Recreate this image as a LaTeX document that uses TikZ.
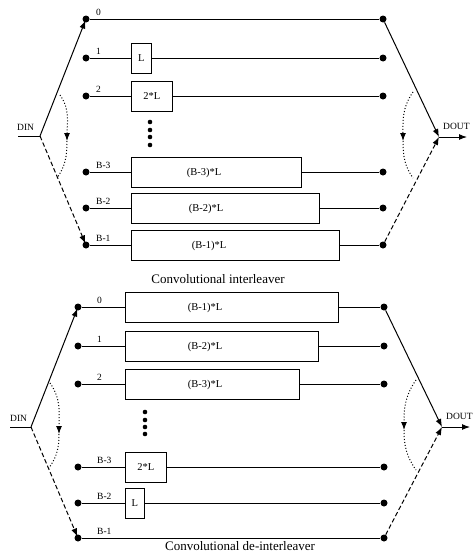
\documentclass[tikz,border=0pt]{standalone}
\usepackage{fontspec}
\setmainfont{Liberation Serif}
\usetikzlibrary{arrows.meta}

\tikzset{
    dot/.style={circle,fill,inner sep=0pt,minimum size=7pt},
    box/.style={draw,line width=0.8pt,anchor=west,minimum height=30pt,inner sep=0pt,font=\fontsize{10.5}{11}\selectfont},
    tag/.style={inner sep=0pt,font=\fontsize{10.5}{11}\selectfont},
    lbl/.style={anchor=south west,inner sep=0pt,font=\fontsize{9.5}{10}\selectfont},
    wire/.style={line width=1pt},
    tip/.style={-{Latex[length=8pt,width=6pt]}},
    turn/.style={line width=1pt,dash pattern=on 1pt off 2pt},
    gap/.style={dash pattern=on 4.5pt off 2.5pt},
}

\begin{document}
\begin{tikzpicture}[x=1pt,y=-1pt]
    \useasboundingbox (0,0) rectangle (474,557);

    % interleaver
    \foreach \n/\y in {0/19,1/58,2/96,3/172,4/208,5/245}
    {
        \node[dot] (a\n) at (86,\y) {};
        \node[dot] (p\n) at (383,\y) {};
    }
    \foreach \n/\t in {0/0,1/1,2/2,3/B-3,4/B-2,5/B-1}
        \node[lbl] at ([xshift=10pt,yshift=3pt]a\n) {\t};

    \node[box,minimum width=20pt] (k1) at (131,58) {L};
    \node[box,minimum width=41pt] (k2) at (131,96) {2*L};
    \node[box,minimum width=170pt] (k3) at (131,172) {};
    \node[box,minimum width=188pt] (k4) at (131,208) {};
    \node[box,minimum width=208pt] (k5) at (131,245) {};
    \node[tag] (n3) at (204,173) {(B-3)*L};
    \node[tag] (n4) at (206,209) {(B-2)*L};
    \node[tag] (n5) at (209,246) {(B-1)*L};

    \draw[wire] (a0) -- (p0);
    \foreach \n in {1,...,5}
        \draw[wire] (a\n) -- (k\n) (k\n) -- (p\n);
    \foreach \y in {122,130,137,145}
        \fill (150,\y) circle (2.3pt);

    \coordinate (in1) at (18,136);
    \coordinate (din1) at (40,136);
    \node[lbl] (dinl1) at (17,131) {DIN};
    \draw[wire] (in1) -- (din1);
    \draw[wire,tip,shorten >=-2pt] (din1) -- (a0);
    \draw[wire,gap,tip,shorten >=-2pt] (din1) -- (a5);
    \coordinate (s1) at (60,95);
    \coordinate (s2) at (67,141);
    \coordinate (s3) at (57,178);
    \draw[turn,tip] (s1) to[out=-55,in=90] (s2);
    \draw[turn] (s2) to[out=-90,in=55] (s3);

    \coordinate (dout1) at (439,137);
    \coordinate (out1) at (467,137);
    \node[lbl] (doutl1) at (443,130) {DOUT};
    \draw[wire,tip] (dout1) -- (out1);
    \draw[wire,tip] (p0) -- (dout1);
    \draw[wire,gap,tip] (p5) -- (dout1);
    \coordinate (q1) at (413,92);
    \coordinate (q2) at (403,141);
    \coordinate (q3) at (413,178);
    \draw[turn,tip] (q1) to[out=-125,in=90] (q2);
    \draw[turn] (q2) to[out=-90,in=125] (q3);

    \node[font=\fontsize{13}{13}\selectfont] (t1) at (218,279) {Convolutional interleaver};

    % de-interleaver
    \foreach \n/\y in {0/307,1/346,2/384,3/467,4/503,5/538}
    {
        \node[dot] (b\n) at (78,\y) {};
        \node[dot] (r\n) at (384,\y) {};
    }
    \foreach \n/\t in {0/0,1/1,2/2,3/B-3,4/B-2,5/B-1}
        \node[lbl] at ([xshift=19pt,yshift=3pt]b\n) {\t};

    \node[box,minimum width=213pt] (m0) at (125,307) {};
    \node[box,minimum width=193pt] (m1) at (125,346) {};
    \node[box,minimum width=174pt] (m2) at (125,384) {};
    \node[box,minimum width=41pt] (m3) at (125,467) {2*L};
    \node[box,minimum width=19pt] (m4) at (125,503) {L};
    \node[tag] (o0) at (205,308) {(B-1)*L};
    \node[tag] (o1) at (205,347) {(B-2)*L};
    \node[tag] (o2) at (205,385) {(B-3)*L};

    \foreach \n in {0,...,4}
        \draw[wire] (b\n) -- (m\n) (m\n) -- (r\n);
    \draw[wire] (b5) -- (r5);
    \foreach \y in {412,420,427,434}
        \fill (145,\y) circle (2.3pt);

    \coordinate (in2) at (10,427);
    \coordinate (din2) at (31,427);
    \node[lbl] (dinl2) at (10,422) {DIN};
    \draw[wire] (in2) -- (din2);
    \draw[wire,tip,shorten >=-2pt] (din2) -- (b0);
    \draw[wire,gap,tip,shorten >=-2pt] (din2) -- (b5);
    \coordinate (u1) at (50,383);
    \coordinate (u2) at (59,434);
    \coordinate (u3) at (49,468);
    \draw[turn,tip] (u1) to[out=-55,in=90] (u2);
    \draw[turn] (u2) to[out=-90,in=55] (u3);

    \coordinate (dout2) at (442,427);
    \coordinate (out2) at (470,427);
    \node[lbl] (doutl2) at (446,420) {DOUT};
    \draw[wire,tip] (dout2) -- (out2);
    \draw[wire,tip] (r0) -- (dout2);
    \draw[wire,gap,tip] (r5) -- (dout2);
    \coordinate (v1) at (416,380);
    \coordinate (v2) at (404,430);
    \coordinate (v3) at (416,470);
    \draw[turn,tip] (v1) to[out=-125,in=90] (v2);
    \draw[turn] (v2) to[out=-90,in=125] (v3);

    \node[font=\fontsize{13}{13}\selectfont] (t2) at (240,546) {Convolutional de-interleaver};
\end{tikzpicture}
\end{document}
